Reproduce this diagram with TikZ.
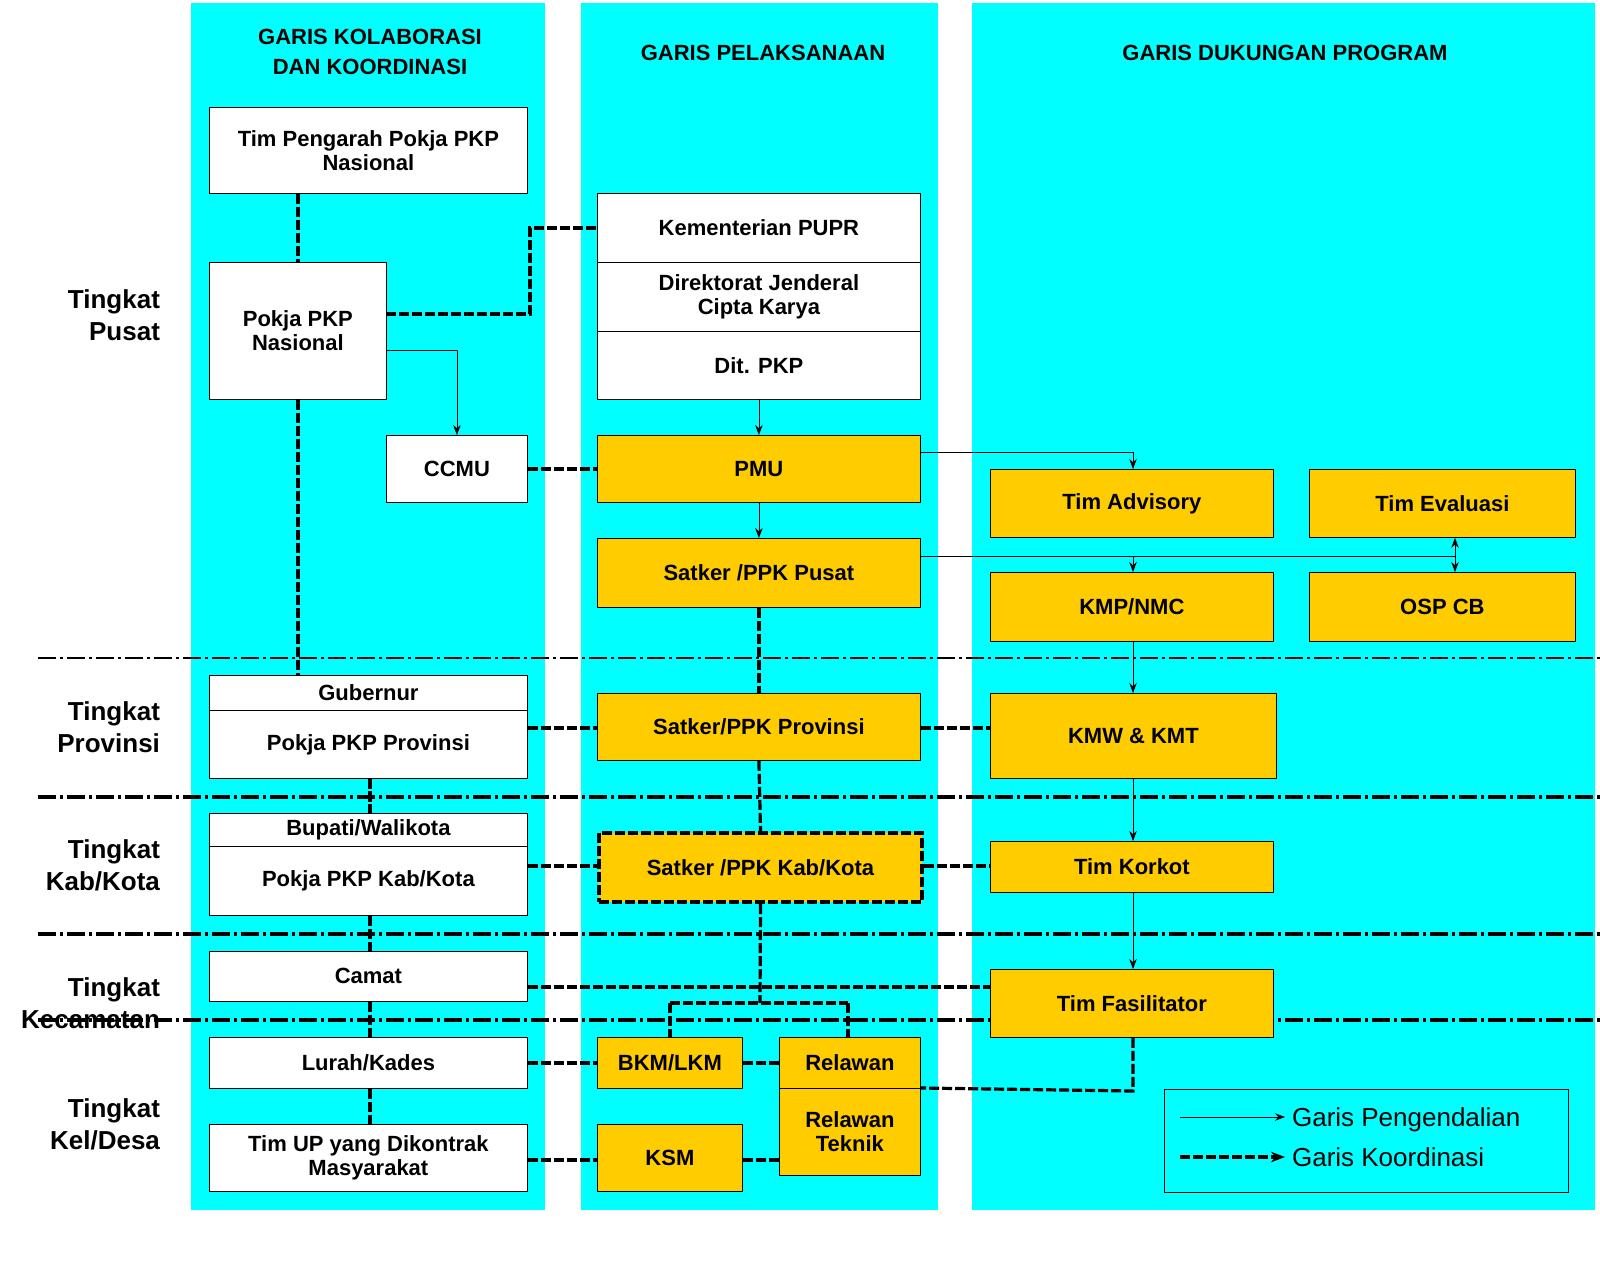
\documentclass[tikz,border=0pt]{standalone}
\usepackage{fontspec}
\setmainfont{Liberation Sans}
\usepackage{tikz}
\usetikzlibrary{arrows.meta}
\definecolor{kolom}{HTML}{00FFFF}
\definecolor{kuning}{HTML}{FFCC00}
\tikzset{
	kotak/.style = {draw, fill = white, anchor = north west, inner sep = 0pt, align = center, font = \bfseries\fontsize{11}{12}\selectfont},
	kuningbox/.style = {kotak, fill = kuning},
	kendali/.style = {-{Stealth[length = 5pt]}, thin},
	koord/.style = {line width = 1.6pt, dash pattern = on 5pt off 1.5pt},
	batas/.style = {line width = 1.6pt, dash pattern = on 9pt off 2pt on 1.5pt off 2pt},
	tingkat/.style = {align = right, anchor = east, font = \bfseries\fontsize{13}{16}\selectfont}
}
\begin{document}
\begin{tikzpicture}[x = 0.5pt, y = -0.5pt]
		\useasboundingbox (0, 0) rectangle (1600, 1268);
		% kolom
		\fill[kolom] (191, 3) rectangle (545, 1210);
		\fill[kolom] (581, 3) rectangle (938, 1210);
		\fill[kolom] (972, 3) rectangle (1595, 1210);
		\node[font = \bfseries\fontsize{11}{15}\selectfont, align = center] (h1) at (370, 52) {GARIS KOLABORASI\\DAN KOORDINASI};
		\node[font = \bfseries\fontsize{11}{15}\selectfont] (h2) at (763, 53) {GARIS PELAKSANAAN};
		\node[font = \bfseries\fontsize{11}{15}\selectfont] (h3) at (1285, 53) {GARIS DUKUNGAN PROGRAM};
		% tingkat
		\node[tingkat] (t1) at (167, 315) {Tingkat\\Pusat};
		\node[tingkat] (t2) at (167, 727) {Tingkat\\Provinsi};
		\node[tingkat] (t3) at (167, 865) {Tingkat\\Kab/Kota};
		\node[tingkat] (t4) at (167, 1003) {Tingkat\\Kecamatan};
		\node[tingkat] (t5) at (167, 1124) {Tingkat\\Kel/Desa};
		% garis batas
		\draw[batas, line width = 1.2pt] (38, 658) -- (1600, 658);
		\foreach \y in {797, 934, 1020}
			\draw[batas] (38, \y) -- (1600, \y);
		% kolom kolaborasi
		\node[kotak, minimum width = 159pt, minimum height = 43pt] (tpn) at (209, 107) {Tim Pengarah Pokja PKP\\Nasional};
		\node[kotak, minimum width = 88.5pt, minimum height = 68.5pt] (pkn) at (209, 262) {Pokja PKP\\Nasional};
		\node[kotak, minimum width = 70.5pt, minimum height = 33.5pt] (ccmu) at (386, 435) {CCMU};
		\node[kotak, minimum width = 159pt, minimum height = 17.5pt] (gub) at (209, 675) {Gubernur};
		\node[kotak, minimum width = 159pt, minimum height = 34pt] (pprov) at (209, 710) {Pokja PKP Provinsi};
		\node[kotak, minimum width = 159pt, minimum height = 16.5pt] (bup) at (209, 813) {Bupati/Walikota};
		\node[kotak, minimum width = 159pt, minimum height = 34.5pt] (pkab) at (209, 846) {Pokja PKP Kab/Kota};
		\node[kotak, minimum width = 159pt, minimum height = 25pt] (camat) at (209, 951) {Camat};
		\node[kotak, minimum width = 159pt, minimum height = 25.5pt] (lurah) at (209, 1037) {Lurah/Kades};
		\node[kotak, minimum width = 159pt, minimum height = 33.5pt] (timup) at (209, 1124) {Tim UP yang Dikontrak\\Masyarakat};
		% kolom pelaksanaan
		\node[kotak, minimum width = 161.5pt, minimum height = 34.5pt] (kem) at (597, 193) {Kementerian PUPR};
		\node[kotak, minimum width = 161.5pt, minimum height = 34.5pt] (djck) at (597, 262) {Direktorat Jenderal\\Cipta Karya};
		\node[kotak, minimum width = 161.5pt, minimum height = 34pt] (dpkp) at (597, 331) {Dit. PKP};
		\node[kuningbox, minimum width = 161.5pt, minimum height = 33.5pt] (pmu) at (597, 435) {PMU};
		\node[kuningbox, minimum width = 161.5pt, minimum height = 34.5pt] (spus) at (597, 538) {Satker /PPK Pusat};
		\node[kuningbox, minimum width = 161.5pt, minimum height = 33.5pt] (sprov) at (597, 693) {Satker/PPK Provinsi};
		\node[kuningbox, minimum width = 161.5pt, minimum height = 34.5pt, line width = 2pt, dash pattern = on 5pt off 1.5pt] (skab) at (597, 831) {Satker /PPK Kab/Kota};
		\node[kuningbox, minimum width = 72.5pt, minimum height = 25.5pt] (bkm) at (597, 1037) {BKM/LKM};
		\node[kuningbox, minimum width = 72.5pt, minimum height = 33.5pt] (ksm) at (597, 1124) {KSM};
		\node[kuningbox, minimum width = 70.5pt, minimum height = 25.5pt] (rel) at (779, 1037) {Relawan};
		\node[kuningbox, minimum width = 70.5pt, minimum height = 43.5pt] (relt) at (779, 1088) {Relawan\\Teknik};
		% kolom dukungan
		\node[kuningbox, minimum width = 141.5pt, minimum height = 34pt] (adv) at (990, 469) {Tim Advisory};
		\node[kuningbox, minimum width = 133pt, minimum height = 34pt] (eva) at (1309, 469) {Tim Evaluasi};
		\node[kuningbox, minimum width = 141.5pt, minimum height = 34.5pt] (kmp) at (990, 572) {KMP/NMC};
		\node[kuningbox, minimum width = 133pt, minimum height = 34.5pt] (osp) at (1309, 572) {OSP CB};
		\node[kuningbox, minimum width = 143pt, minimum height = 42.5pt] (kmw) at (990, 693) {KMW \& KMT};
		\node[kuningbox, minimum width = 141.5pt, minimum height = 25.5pt] (kork) at (990, 841) {Tim Korkot};
		\node[kuningbox, minimum width = 141.5pt, minimum height = 34pt] (fas) at (990, 969) {Tim Fasilitator};
		% garis koordinasi
		\draw[koord] (tpn.south -| pkn.north) -- (pkn.north);
		\draw[koord] (386, 314) -- (530, 314) -- (530, 228) -- (kem.west |- 0, 228);
		\draw[koord] (pkn.south) -- (gub.north -| pkn.south);
		\draw[koord] (ccmu.east) -- (pmu.west);
		\draw[koord] (spus.south) -- (sprov.north);
		\draw[koord] (sprov.south) -- (skab.north);
		\draw[koord] (skab.south) -- (760, 1003) coordinate (cab);
		\draw[koord] (670, 1003) -- (848, 1003);
		\draw[koord] (670, 1003) -- (bkm.north -| 670, 0);
		\draw[koord] (848, 1003) -- (rel.north -| 848, 0);
		\draw[koord] (camat.east |- 0, 987) -- (fas.west |- 0, 987);
		\draw[koord] (pprov.east |- 0, 728) -- (sprov.west |- 0, 728);
		\draw[koord] (sprov.east |- 0, 728) -- (kmw.west |- 0, 728);
		\draw[koord] (gub.south -| 370, 0) ++(0, 103) -- ++(0, -35);
		\draw[koord] (pkab.south -| 370, 0) -- (camat.north -| 370, 0);
		\draw[koord] (camat.south -| 370, 0) -- (lurah.north -| 370, 0);
		\draw[koord] (lurah.south -| 370, 0) -- (timup.north -| 370, 0);
		\draw[koord] (pprov.south -| 370, 0) -- (bup.north -| 370, 0);
		\draw[koord] (pkab.east |- 0, 866) -- (skab.west |- 0, 866);
		\draw[koord] (skab.east |- 0, 866) -- (kork.west |- 0, 866);
		\draw[koord] (lurah.east) -- (bkm.west);
		\draw[koord] (bkm.east) -- (rel.west);
		\draw[koord] (timup.east |- 0, 1160) -- (ksm.west |- 0, 1160);
		\draw[koord] (ksm.east |- 0, 1160) -- (relt.west |- 0, 1160);
		\draw[koord] (fas.south -| 1133, 0) -- (1133, 1091) -- (relt.north east);
		% garis pengendalian
		\draw[kendali] (386, 350) -| (ccmu.north);
		\draw[kendali] (dpkp.south) -- (pmu.north);
		\draw[kendali] (pmu.south) -- (spus.north);
		\draw[kendali] (pmu.east |- 0, 452) -| (adv.north -| 1133, 0);
		\draw[thin] (spus.east |- 0, 556) -- (1455, 556);
		\draw[kendali] (1133, 556) -- (kmp.north -| 1133, 0);
		\draw[kendali] (1455, 556) -- (eva.south -| 1455, 0);
		\draw[kendali] (1455, 556) -- (osp.north -| 1455, 0);
		\draw[kendali] (kmp.south -| 1133, 0) -- (kmw.north -| 1133, 0);
		\draw[kendali] (kmw.south -| 1133, 0) -- (kork.north -| 1133, 0);
		\draw[kendali] (kork.south -| 1133, 0) -- (fas.north -| 1133, 0);
		% legenda
		\node[draw, fill = kolom, anchor = north west, minimum width = 202pt, minimum height = 51.5pt] (leg) at (1164, 1089) {};
		\coordinate (l1) at (1180, 1117);
		\coordinate (l2) at (1180, 1157);
		\node[anchor = west, font = \fontsize{13}{15}\selectfont] (lk) at (1285, 1120) {Garis Pengendalian};
		\node[anchor = west, font = \fontsize{13}{15}\selectfont] (lo) at (1285, 1157) {Garis Koordinasi};
		\draw[kendali] (l1) -- (lk.west |- l1);
		\draw[koord, -{Stealth[length = 7pt]}] (l2) -- (lo.west);
	\end{tikzpicture}
\end{document}
